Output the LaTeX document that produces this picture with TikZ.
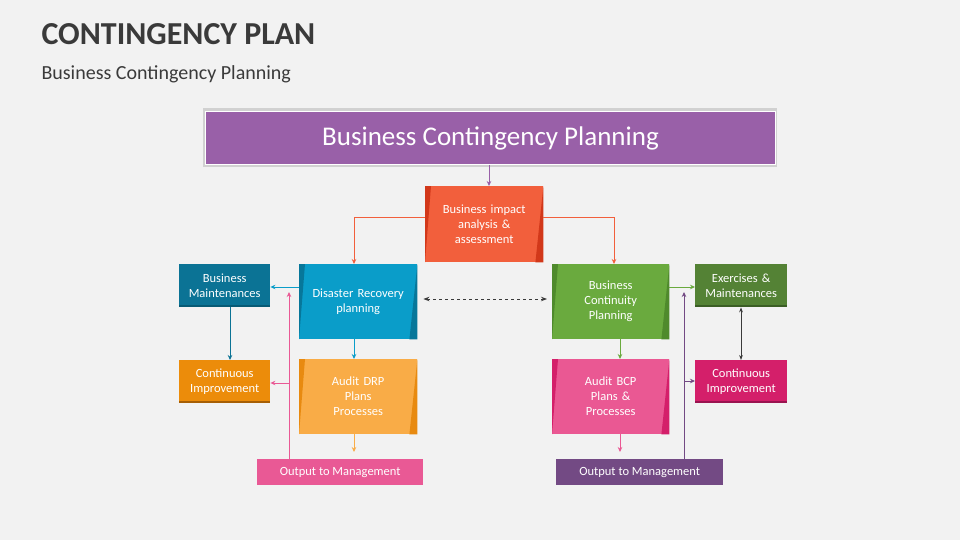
\documentclass[tikz,border=0pt]{standalone}
\usepackage{fontspec}
\setmainfont{Carlito}
\usetikzlibrary{arrows.meta}
\definecolor{bg}{HTML}{F2F2F2}
\definecolor{purp}{HTML}{9960A8}
\definecolor{bia}{HTML}{F25F3C}\definecolor{biad}{HTML}{D2381A}
\definecolor{drp}{HTML}{0A9DC9}\definecolor{drpd}{HTML}{07779A}
\definecolor{adrp}{HTML}{F9AC47}\definecolor{adrpd}{HTML}{E88A10}
\definecolor{bm}{HTML}{0B7395}\definecolor{bmd}{HTML}{075A75}
\definecolor{cil}{HTML}{EC8C0A}\definecolor{cild}{HTML}{A65F05}
\definecolor{outl}{HTML}{E95995}
\definecolor{bcp}{HTML}{6AAA3E}\definecolor{bcpd}{HTML}{4F8A2C}
\definecolor{abcp}{HTML}{EA5893}\definecolor{abcpd}{HTML}{D41F6A}
\definecolor{ex}{HTML}{548235}\definecolor{exd}{HTML}{3B5E25}
\definecolor{cir}{HTML}{D41F6A}\definecolor{cird}{HTML}{9A1450}
\definecolor{outr}{HTML}{734A84}
\definecolor{txt}{HTML}{3A3A3A}
\tikzset{
 bx/.style={anchor=north west,inner sep=0pt,text=white,align=center,font=\fontsize{12.5}{15}\selectfont},
 conn/.style={line width=0.8pt,-{Stealth[length=5pt,width=4.5pt]}},
}
\newcommand{\bigbox}[8]{% name,x,y,w,h,fill,dark,text
 \node[bx,fill=#6,minimum width=#4pt,minimum height=#5pt,text width=#4pt-16pt] (#1) at (#2,#3) {#8};
 \fill[#7] (#1.north west) -- ++(6pt,0) -- (#1.south west) -- cycle;
 \fill[#7] (#1.south east) -- ++(-8pt,0) -- (#1.north east) -- cycle;
}
\newcommand{\smallbox}[8]{%
 \node[bx,fill=#6,minimum width=#4pt,minimum height=#5pt,text width=#4pt-4pt] (#1) at (#2,#3) {#8};
 \fill[#7] (#1.south west) rectangle ([yshift=2.5pt]#1.south east);
}
\begin{document}
\begin{tikzpicture}[x=1pt,y=-1pt]
\fill[bg] (0,0) rectangle (960,540);
\useasboundingbox (0,0) rectangle (960,540);
\node[anchor=west,text=txt,font=\fontsize{32}{36}\selectfont\bfseries] (title) at (38,34) {CONTINGENCY PLAN};
\node[anchor=west,text=txt,font=\fontsize{20}{24}\selectfont] (sub) at (38,74) {Business Contingency Planning};
\fill[black!18] (203,108) rectangle (777,167);
\node[anchor=north west,fill=purp,draw=white,line width=1pt,minimum width=570pt,minimum height=53pt,inner sep=0pt,text=white,font=\fontsize{27}{30}\selectfont] (top) at (205,111) {Business Contingency Planning};
\bigbox{bia}{425}{186}{118}{76}{bia}{biad}{Business impact\\analysis \&\\assessment}
\bigbox{drp}{299}{264}{118}{75}{drp}{drpd}{Disaster Recovery\\planning}
\bigbox{adrp}{299}{359}{118}{75}{adrp}{adrpd}{Audit DRP\\Plans\\Processes}
\bigbox{bcp}{552}{264}{117}{75}{bcp}{bcpd}{Business\\Continuity\\Planning}
\bigbox{abcp}{552}{359}{117}{75}{abcp}{abcpd}{Audit BCP\\Plans \&\\Processes}
\smallbox{bm}{179}{264}{91}{43}{bm}{bmd}{Business\\Maintenances}
\smallbox{cil}{179}{360}{91}{43}{cil}{cild}{Continuous\\Improvement}
\smallbox{ex}{695}{264}{92}{43}{ex}{exd}{Exercises \&\\Maintenances}
\smallbox{cir}{695}{360}{92}{43}{cir}{cird}{Continuous\\Improvement}
\node[bx,fill=outl,minimum width=166pt,minimum height=26pt] (outl) at (257,459) {Output to Management};
\node[bx,fill=outr,minimum width=167pt,minimum height=26pt] (outr) at (556,459) {Output to Management};
% connectors
\draw[conn,purp] (top.south-|489,0) -- (bia.north-|489,0);
\draw[conn,bia] (bia.west|-0,217) -| (drp.north-|354,0);
\draw[conn,bia] (bia.east|-0,217) -| (bcp.north-|614,0);
\draw[conn,drp] (drp.west|-0,287) -- (bm.east|-0,287);
\draw[conn,bm] (bm.south-|230,0) -- (cil.north-|230,0);
\draw[conn,drp] (drp.south-|354,0) -- (adrp.north-|354,0);
\coordinate (al) at (354,452);
\draw[conn,adrp] (adrp.south-|354,0) -- (al);
\draw[conn,outl] (outl.north-|289,0) -- (289,292);
\draw[conn,outl] (289,383) -- (cil.east|-0,383);
\draw[line width=1pt,dashed,txt,{Stealth[length=6pt]}-{Stealth[length=6pt]}] (drp.east|-0,299)++(6,0) -- ([xshift=-5pt]bcp.west|-0,299);
\draw[conn,bcp] (bcp.east|-0,287) -- (ex.west|-0,287);
\draw[conn,bcp] (bcp.south-|620,0) -- (abcp.north-|620,0);
\coordinate (ar) at (620,452);
\draw[conn,abcp] (abcp.south-|620,0) -- (ar);
\draw[conn,outr] (outr.north-|684,0) -- (684,292);
\draw[conn,outr] (684,381) -- (cir.west|-0,381);
\draw[line width=0.8pt,txt,{Stealth[length=5pt]}-{Stealth[length=5pt]}] (ex.south-|741,0) -- (cir.north-|741,0);
\end{tikzpicture}
\end{document}
